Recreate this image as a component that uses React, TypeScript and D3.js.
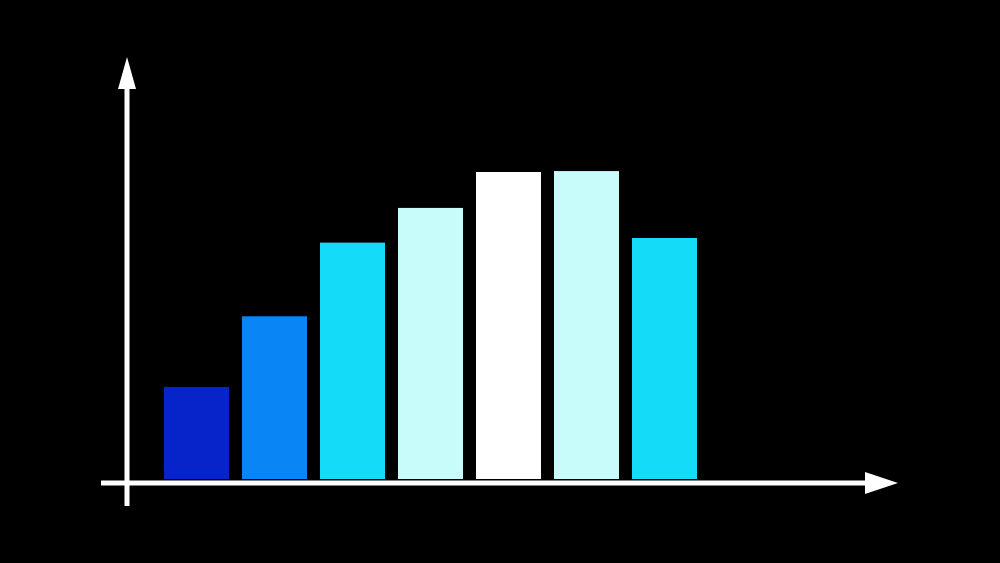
import { useEffect, useRef } from 'react'
import * as d3 from 'd3'

const categories = ['A', 'B', 'C', 'D', 'E', 'F', 'G']
const values = [30, 53, 77, 88.3, 100, 100.3, 78.5]
const barColors = ['#0624c9', '#0a85f5', '#14dcf8', '#c8fcfa', '#ffffff', '#c8fcfa', '#14dcf8']

const W = 1000
const H = 563

export default function App() {
  const svgRef = useRef<SVGSVGElement>(null)

  useEffect(() => {
    if (!svgRef.current) return
    document.body.style.margin = '0'

    const svg = d3.select(svgRef.current)
    svg.selectAll('*').remove()

    svg.append('rect').attr('width', W).attr('height', H).attr('fill', '#000')

    const baseY = 479
    const x = d3
      .scaleBand<string>()
      .domain(categories)
      .range([164, 697])
      .paddingInner(13 / 78)
      .paddingOuter(0)

    const y = d3.scaleLinear().domain([0, 100]).range([baseY, 172])

    // barres
    svg
      .append('g')
      .selectAll('rect')
      .data(categories)
      .join('rect')
      .attr('x', (d) => x(d) ?? 0)
      .attr('y', (_, i) => y(values[i]))
      .attr('width', x.bandwidth())
      .attr('height', (_, i) => baseY - y(values[i]))
      .attr('fill', (_, i) => barColors[i])

    // axes avec flèches
    const axisX = 127
    const axisY = 483
    const axes = svg.append('g').attr('fill', '#fff').attr('stroke', 'none')

    // axe vertical
    axes.append('rect').attr('x', axisX - 2.5).attr('y', 86).attr('width', 5).attr('height', 506 - 86)
    axes
      .append('path')
      .attr('d', `M${axisX},57 L${axisX + 9},89 L${axisX - 9},89 Z`)

    // axe horizontal
    axes.append('rect').attr('x', 101).attr('y', axisY - 2.5).attr('width', 868 - 101).attr('height', 5)
    axes
      .append('path')
      .attr('d', `M898,${axisY} L865,${axisY - 11} L865,${axisY + 11} Z`)
  }, [])

  return (
    <svg
      ref={svgRef}
      width={W}
      height={H}
      style={{ display: 'block', background: '#000' }}
    />
  )
}
